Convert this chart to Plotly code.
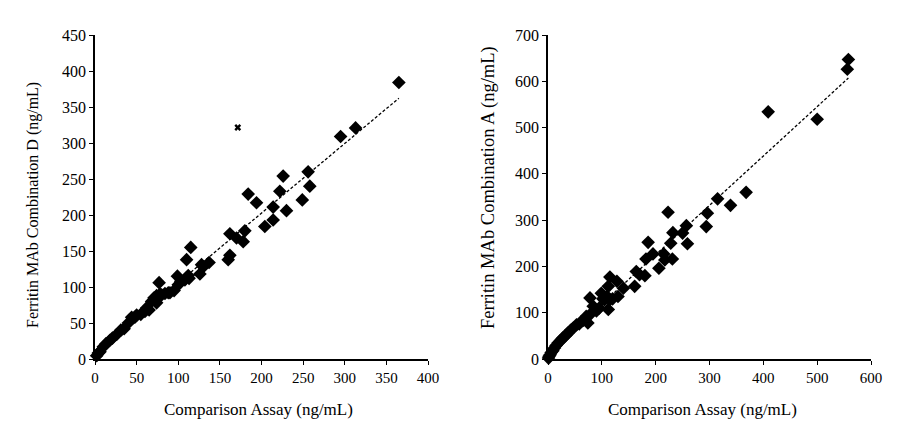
import numpy as np
import plotly.graph_objects as go

# ---- Left panel: MAb Combination D vs comparison assay ----
left_x = [2, 4, 6, 10, 13, 18, 21, 26, 31, 35, 40, 44, 48, 50, 55, 60, 62, 65, 68, 71,
          74, 74, 77, 78, 80, 84, 88, 90, 95, 99, 100, 103, 108, 110, 112, 115, 113, 126,
          128, 130, 137, 160, 162, 162, 170, 178, 180, 184, 194, 204, 214, 214, 222, 226,
          230, 249, 256, 258, 295, 313, 365]
left_y = [4.6, 8.3, 10, 17, 21, 26, 29, 34, 40, 42, 50, 58, 58, 61, 62, 66, 71, 68, 80, 85,
          78, 88, 106, 90, 89, 91, 92, 92, 95, 115, 103, 108, 110, 138, 116, 155, 112, 118,
          131, 128, 134, 138, 144, 174, 168, 163, 178, 229, 217, 184, 193, 211, 233, 254,
          206, 221, 260, 240, 309, 321, 384]
left_outlier_x = [171.5]
left_outlier_y = [321.5]

# ---- Right panel: MAb Combination A vs comparison assay ----
right_x = [1, 2, 4, 6, 9, 12, 15, 19, 22, 25, 28, 31, 34, 37, 42, 47, 53, 58, 62, 66, 71,
           74, 78, 84, 78, 90, 95, 99, 102, 105, 110, 112, 115, 115, 112, 120, 128, 130,
           140, 161, 164, 170, 180, 182, 186, 195, 206, 215, 217, 223, 228, 231, 232, 250,
           257, 259, 294, 296, 315, 339, 368, 409, 500, 556, 558]
right_y = [2, 6, 9, 14, 18, 24, 29, 35, 38, 42, 46, 49, 52, 56, 62, 67, 74, 76, 81, 84, 92,
           78, 96, 114, 132, 104, 110, 142, 130, 128, 135, 107, 128, 177, 157, 130, 168, 135,
           153, 157, 189, 182, 180, 216, 252, 227, 196, 227, 214, 317, 250, 216, 273, 272,
           288, 249, 286, 315, 346, 332, 360, 534, 518, 626, 647]

x_title = "Comparison Assay (ng/mL)"
left_y_title = "Ferritin MAb Combination D (ng/mL)"
right_y_title = "Ferritin MAb Combination A (ng/mL)"

FONT = "Liberation Serif, Times New Roman, serif"


def trend(xs, ys):
    k, b = np.polyfit(xs, ys, 1)
    lx = np.array([0, max(xs)], dtype=float)
    return lx, k * lx + b


fig = go.Figure()

lx, ly = trend(left_x, left_y)
fig.add_trace(go.Scatter(x=lx, y=ly, mode="lines", xaxis="x", yaxis="y",
                         line=dict(color="black", width=1.3, dash="3px,2px"),
                         showlegend=False, hoverinfo="skip"))
fig.add_trace(go.Scatter(x=left_x, y=left_y, mode="markers", xaxis="x", yaxis="y",
                         marker=dict(symbol="diamond", size=10.5, color="black"),
                         cliponaxis=False, showlegend=False))
fig.add_trace(go.Scatter(x=left_outlier_x, y=left_outlier_y, mode="markers", xaxis="x", yaxis="y",
                         marker=dict(symbol="x", size=6, color="black"),
                         cliponaxis=False, showlegend=False))

rx, ry = trend(right_x, right_y)
fig.add_trace(go.Scatter(x=rx, y=ry, mode="lines", xaxis="x2", yaxis="y2",
                         line=dict(color="black", width=1.3, dash="3px,2px"),
                         showlegend=False, hoverinfo="skip"))
fig.add_trace(go.Scatter(x=right_x, y=right_y, mode="markers", xaxis="x2", yaxis="y2",
                         marker=dict(symbol="diamond", size=10.5, color="black"),
                         cliponaxis=False, showlegend=False))

ydom = [77 / 436, 401 / 436]
axis_common = dict(showline=True, linecolor="black", linewidth=1.5, ticks="outside",
                   ticklen=4, tickwidth=1.3, tickcolor="black", showgrid=False,
                   zeroline=False, fixedrange=True, automargin=False)

fig.update_layout(
    width=913, height=436,
    margin=dict(l=0, r=0, t=0, b=0),
    paper_bgcolor="white", plot_bgcolor="white",
    font=dict(family=FONT, color="black"),
    xaxis=dict(domain=[95 / 913, 428 / 913], range=[0, 400], dtick=50, anchor="y",
               tickfont=dict(size=15), **axis_common),
    yaxis=dict(domain=ydom, range=[0, 450], dtick=50, anchor="x",
               tickfont=dict(size=16), **axis_common),
    xaxis2=dict(domain=[548 / 913, 871 / 913], range=[0, 600], dtick=100, anchor="y2",
                tickfont=dict(size=15), **axis_common),
    yaxis2=dict(domain=ydom, range=[0, 700], dtick=100, anchor="x2",
                tickfont=dict(size=16), **axis_common),
    annotations=[
        dict(text=x_title, x=258 / 913, y=(436 - 409) / 436, xref="paper", yref="paper",
             showarrow=False, font=dict(size=17), xanchor="center", yanchor="middle"),
        dict(text=x_title, x=702 / 913, y=(436 - 409) / 436, xref="paper", yref="paper",
             showarrow=False, font=dict(size=17), xanchor="center", yanchor="middle"),
        dict(text=left_y_title, x=33 / 913, y=(436 - 205) / 436, xref="paper", yref="paper",
             showarrow=False, font=dict(size=16), textangle=-90, xanchor="center", yanchor="middle"),
        dict(text=right_y_title, x=488 / 913, y=(436 - 187) / 436, xref="paper", yref="paper",
             showarrow=False, font=dict(size=18.5), textangle=-90, xanchor="center", yanchor="middle"),
    ],
)

fig.write_html("out.html")
